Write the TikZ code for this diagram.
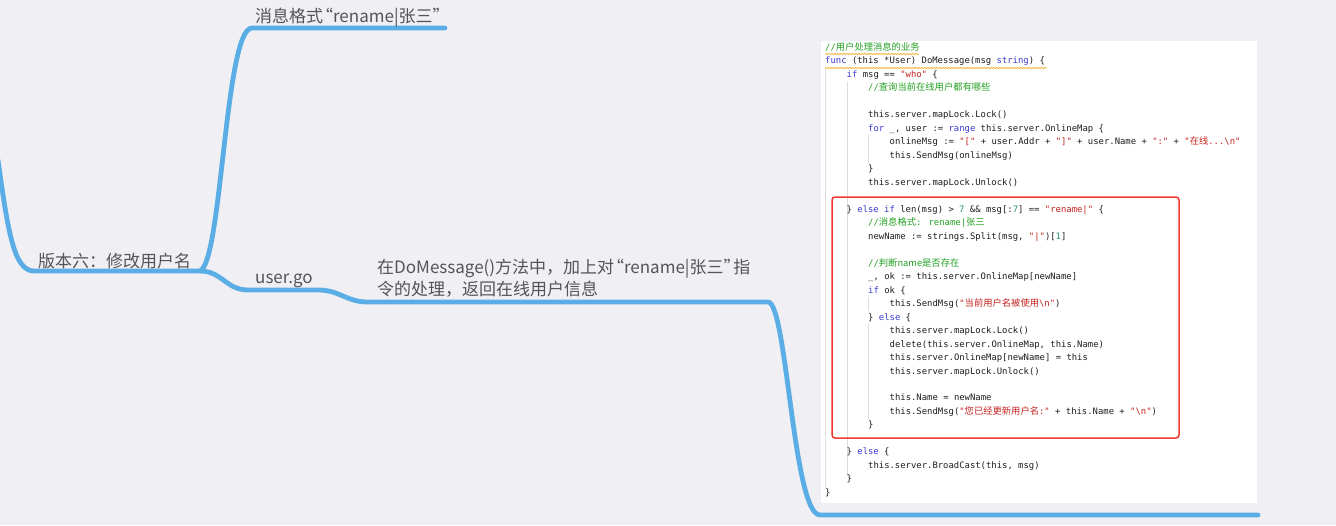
\documentclass[tikz,border=0pt]{standalone}
\usepackage{fontspec}
\usetikzlibrary{decorations.pathmorphing}
\newfontfamily\cjk{Noto Sans CJK SC}
\newfontfamily\codefont{DejaVu Sans Mono}
\definecolor{bgc}{HTML}{EFEFF4}
\definecolor{linec}{HTML}{5BAEE5}
\definecolor{labelc}{HTML}{555555}
\definecolor{codec}{HTML}{1E1E1E}
\definecolor{kwc}{HTML}{3A3AD4}
\definecolor{strc}{HTML}{C5221F}
\definecolor{cmc}{HTML}{22A022}
\definecolor{numc}{HTML}{1B9770}
\definecolor{boxc}{HTML}{EE3B2F}
\definecolor{guidec}{HTML}{DDDDDD}
\definecolor{wavec}{HTML}{F3B740}
\newcommand\gkw[1]{\textcolor{kwc}{#1}}
\newcommand\gstr[1]{\textcolor{strc}{#1}}
\newcommand\gcm[1]{\textcolor{cmc}{#1}}
\newcommand\gnum[1]{\textcolor{numc}{#1}}
\newcommand\gzh[1]{{\cjk\fontsize{9.3}{10}\selectfont #1}}
\newcommand\oq{\hspace{-0.42em}“}
\newcommand\cq{”\hspace{-0.42em}}
\newcommand\codeln[4]{\node[codetext] (#1) at ({825+21.5*#2},{50.5+13.48*(#3-1)}) {#4};}
\tikzset{
  branch/.style={draw=linec, line width=4.8pt, line cap=round, line join=round},
  label/.style={anchor=base west, inner sep=0pt, text=labelc, font=\cjk\fontsize{17}{22}\selectfont},
  codetext/.style={anchor=base west, inner sep=0pt, text=codec, font=\codefont\fontsize{8.9}{10}\selectfont},
  guide/.style={draw=guidec, line width=0.7pt},
  wavy/.style={draw=wavec, line width=0.8pt, decorate, decoration={snake, amplitude=0.7pt, segment length=3pt}}
}
\begin{document}
\begin{tikzpicture}[x=1pt,y=-1pt]
\useasboundingbox (0,0) rectangle (1336,525);
\fill[bgc] (0,0) rectangle (1336,525);

% mind map branches
\coordinate (rootin) at (-2,160);
\coordinate (rootend) at (200,271);
\coordinate (topend) at (445,28);
\coordinate (codeend) at (1258,515);
\draw[branch] (rootin) .. controls (8,232) and (14,271) .. (34,271) -- (rootend);
\draw[branch] (rootend) .. controls (222,262) and (225,28) .. (252,28) -- (topend);
\draw[branch] (rootend) .. controls (222,271) and (226,290) .. (248,290) -- (318,290)
  .. controls (340,290) and (346,302) .. (368,302) -- (768,302)
  .. controls (787,302) and (793,515) .. (820,515) -- (codeend);

% labels
\node[label] (root) at (38,267) {版本六：修改用户名};
\node[label] (fmt) at (255,22) {消息格式\oq rename|张三\cq};
\node[label] (usergo) at (255,283) {user.go};
\node[label] (desc1) at (377,273) {在DoMessage()方法中，加上对\oq rename|张三\cq 指};
\node[label] (desc2) at (377,295) {令的处理，返回在线用户信息};

% code panel
\fill[white] (821,41) rectangle (1257,503);
\draw[guide] (825.5,68) -- (825.5,488);
\draw[guide] (847,82) -- (847,476);
\draw[guide] (868.5,135) -- (868.5,163);
\draw[guide] (868.5,297) -- (868.5,311);
\draw[guide] (868.5,324) -- (868.5,419);
\draw[wavy] (825,54) -- (919,54);
\draw[wavy] (825,68) -- (1047,68);
\draw[draw=boxc, line width=1.5pt, rounded corners=3pt] (832,197) rectangle (1179,438);

\codeln{c1}{0}{1}{\gcm{//\gzh{用户处理消息的业务}}}
\codeln{c2}{0}{2}{\gkw{func} (this *User) DoMessage(msg \gkw{string}) \{}
\codeln{c3}{1}{3}{\gkw{if} msg == \gstr{"who"} \{}
\codeln{c4}{2}{4}{\gcm{//\gzh{查询当前在线用户都有哪些}}}
\codeln{c6}{2}{6}{this.server.mapLock.Lock()}
\codeln{c7}{2}{7}{\gkw{for} \_, user := \gkw{range} this.server.OnlineMap \{}
\codeln{c8}{3}{8}{onlineMsg := \gstr{"["} + user.Addr + \gstr{"]"} + user.Name + \gstr{":"} + \gstr{"\gzh{在线}...\textbackslash n"}}
\codeln{c9}{3}{9}{this.SendMsg(onlineMsg)}
\codeln{c10}{2}{10}{\}}
\codeln{c11}{2}{11}{this.server.mapLock.Unlock()}
\codeln{c13}{1}{13}{\} \gkw{else} \gkw{if} len(msg) > \gnum{7} \&\& msg[:\gnum{7}] == \gstr{"rename|"} \{}
\codeln{c14}{2}{14}{\gcm{//\gzh{消息格式}: rename|\gzh{张三}}}
\codeln{c15}{2}{15}{newName := strings.Split(msg, \gstr{"|"})[\gnum{1}]}
\codeln{c17}{2}{17}{\gcm{//\gzh{判断name是否存在}}}
\codeln{c18}{2}{18}{\_, ok := this.server.OnlineMap[newName]}
\codeln{c19}{2}{19}{\gkw{if} ok \{}
\codeln{c20}{3}{20}{this.SendMsg(\gstr{"\gzh{当前用户名被使用}\textbackslash n"})}
\codeln{c21}{2}{21}{\} \gkw{else} \{}
\codeln{c22}{3}{22}{this.server.mapLock.Lock()}
\codeln{c23}{3}{23}{delete(this.server.OnlineMap, this.Name)}
\codeln{c24}{3}{24}{this.server.OnlineMap[newName] = this}
\codeln{c25}{3}{25}{this.server.mapLock.Unlock()}
\codeln{c27}{3}{27}{this.Name = newName}
\codeln{c28}{3}{28}{this.SendMsg(\gstr{"\gzh{您已经更新用户名}:"} + this.Name + \gstr{"\textbackslash n"})}
\codeln{c29}{2}{29}{\}}
\codeln{c31}{1}{31}{\} \gkw{else} \{}
\codeln{c32}{2}{32}{this.server.BroadCast(this, msg)}
\codeln{c33}{1}{33}{\}}
\codeln{c34}{0}{34}{\}}
\end{tikzpicture}
\end{document}
